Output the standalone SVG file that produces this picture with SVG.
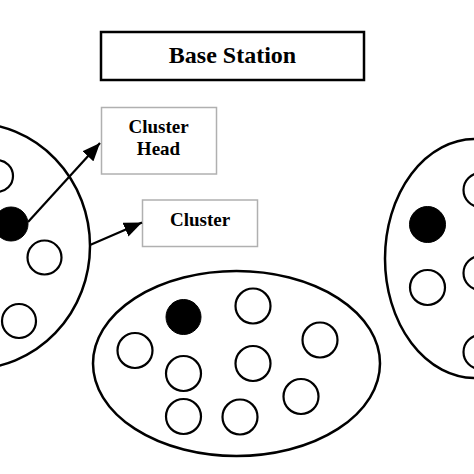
<svg xmlns="http://www.w3.org/2000/svg" width="474" height="474" viewBox="0 0 474 474">
<style>
.cl{fill:none;stroke:#000;stroke-width:2.5}
.n{fill:#fff;stroke:#000;stroke-width:2.2}
.h{fill:#000;stroke:#000;stroke-width:1}
.lbl{fill:#fff;stroke:#b0b0b0;stroke-width:1.5}
.t{font-family:"Liberation Serif","Times New Roman",serif;font-weight:bold;fill:#000;text-anchor:middle}
.ar{stroke:#000;stroke-width:2.2;fill:none}
</style>
<defs>
<marker id="arrow" viewBox="0 0 18 15" refX="18" refY="7.5" markerWidth="18" markerHeight="15" markerUnits="userSpaceOnUse" orient="auto">
<path d="M0,0 L18,7.5 L0,15 Z" fill="#000"/>
</marker>
</defs>
<rect width="474" height="474" fill="#fff"/>
<g id="base-station">
<rect x="101" y="32" width="263" height="48" fill="#fff" stroke="#000" stroke-width="2.5"/>
<text class="t" x="232.5" y="63" font-size="24">Base Station</text>
</g>
<g id="cluster-left">
<ellipse class="cl" cx="-28" cy="246" rx="118" ry="123"/>
<circle class="n" cx="-3" cy="176" r="16"/>
<circle class="h" cx="11" cy="224" r="17"/>
<circle class="n" cx="44.5" cy="257.5" r="17"/>
<circle class="n" cx="19" cy="321" r="17"/>
</g>
<g id="cluster-bottom">
<ellipse class="cl" cx="236.5" cy="363.5" rx="143.5" ry="92.5"/>
<circle class="h" cx="183.5" cy="317" r="17.5"/>
<circle class="n" cx="253" cy="306" r="17.5"/>
<circle class="n" cx="320" cy="340" r="17.5"/>
<circle class="n" cx="135" cy="350.5" r="17.5"/>
<circle class="n" cx="183.5" cy="373.5" r="17.5"/>
<circle class="n" cx="253" cy="363.5" r="17.5"/>
<circle class="n" cx="301" cy="396.5" r="17.5"/>
<circle class="n" cx="183.5" cy="416.5" r="17.5"/>
<circle class="n" cx="240" cy="417" r="17.5"/>
</g>
<g id="cluster-right">
<ellipse class="cl" cx="475" cy="258.5" rx="90" ry="119.5"/>
<circle class="h" cx="427.5" cy="224.5" r="18"/>
<circle class="n" cx="427.5" cy="287.5" r="17.5"/>
<circle class="n" cx="480.5" cy="190" r="17"/>
<circle class="n" cx="480.5" cy="273" r="17"/>
<circle class="n" cx="480.5" cy="352" r="17"/>
</g>
<g id="label-cluster-head">
<rect class="lbl" x="101.5" y="107.5" width="115" height="66.5"/>
<text class="t" x="158.5" y="133" font-size="19">Cluster</text>
<text class="t" x="158.5" y="155" font-size="19">Head</text>
</g>
<g id="label-cluster">
<rect class="lbl" x="142.5" y="200" width="115" height="46.5"/>
<text class="t" x="200" y="226" font-size="19">Cluster</text>
</g>
<g id="connectors">
<line class="ar" x1="28" y1="222" x2="100" y2="143" marker-end="url(#arrow)"/>
<line class="ar" x1="90" y1="245" x2="142" y2="222.5" marker-end="url(#arrow)"/>
</g>
</svg>
